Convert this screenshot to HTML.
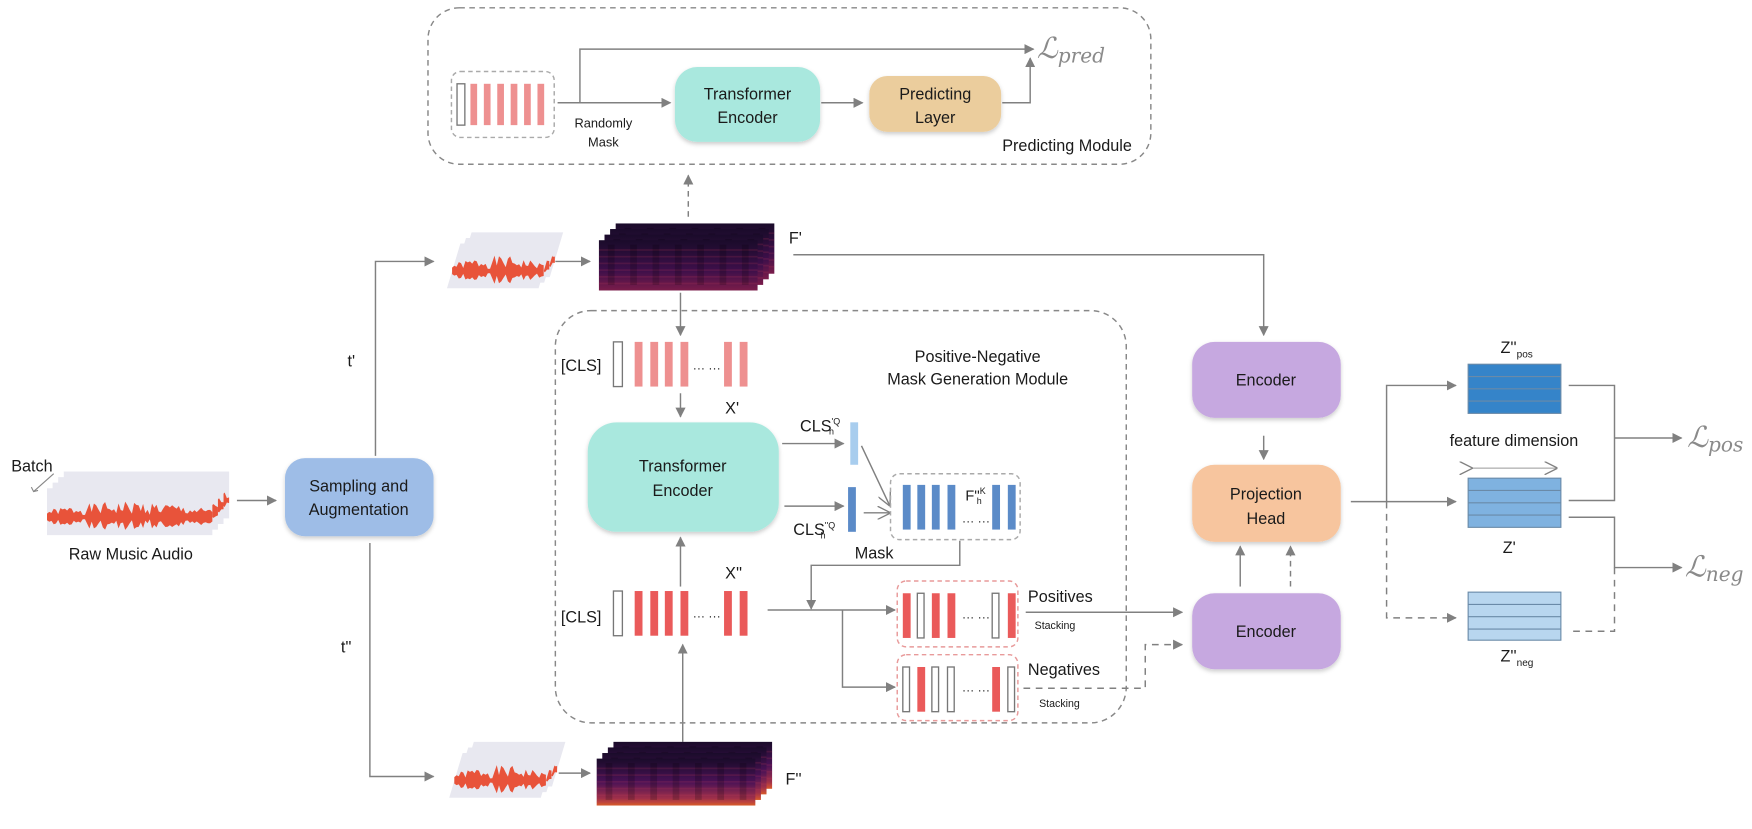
<!DOCTYPE html>
<html><head><meta charset="utf-8"><style>
html,body{margin:0;padding:0;background:#fff;overflow:hidden;width:1752px;height:829px;}
svg{display:block;}
text{font-family:"Liberation Sans","DejaVu Sans",sans-serif;fill:#1a1a1a;}
.L{font-family:"DejaVu Serif","Liberation Serif",serif;fill:#8a8a8a;font-style:italic;}
</style></head><body>
<svg id="s" width="1752" height="829" viewBox="0 0 1568 742" xmlns="http://www.w3.org/2000/svg">
<defs>
<marker id="a" viewBox="0 0 10 10" refX="9" refY="5" markerWidth="9" markerHeight="9" markerUnits="userSpaceOnUse" orient="auto"><path d="M0,0 L10,5 L0,10z" fill="#808080"/></marker>
<marker id="o" viewBox="0 0 10 10" refX="9" refY="5" markerWidth="12" markerHeight="12" markerUnits="userSpaceOnUse" orient="auto"><path d="M0,0 L10,5 L0,10" fill="none" stroke="#808080" stroke-width="1"/></marker>
<linearGradient id="sp" x1="0" y1="0" x2="0" y2="1"><stop offset="0" stop-color="#1a0b2a"/><stop offset="0.6" stop-color="#3d0f4a"/><stop offset="1" stop-color="#7a1c4a"/></linearGradient>
<linearGradient id="sp2" x1="0" y1="0" x2="0" y2="1"><stop offset="0" stop-color="#1a0b2a"/><stop offset="0.5" stop-color="#4a1256"/><stop offset="0.85" stop-color="#a0304a"/><stop offset="1" stop-color="#d85a2a"/></linearGradient>
<filter id="sh" x="-10%" y="-10%" width="130%" height="140%"><feDropShadow dx="0" dy="2" stdDeviation="2" flood-opacity="0.2"/></filter>
</defs>
<g stroke="#808080" stroke-width="1.3" fill="none">
<rect x="383" y="7" width="647" height="140" rx="28" stroke-dasharray="5,4" stroke="#888"/>
<rect x="404" y="64" width="92" height="59" rx="8" stroke-dasharray="4,3" stroke="#aaa"/>
<path d="M499 92 H600" marker-end="url(#a)"/>
<path d="M519 92 V44 H925" marker-end="url(#a)"/>
<path d="M735 92 H772" marker-end="url(#a)"/>
<path d="M897 92 H922 V52" marker-end="url(#a)"/>
<path d="M616 194 V157" stroke-dasharray="5,4" marker-end="url(#a)"/>
<path d="M212 448 H247" marker-end="url(#a)"/>
<path d="M336 408 V234 H388" marker-end="url(#a)"/>
<path d="M331 486 V695 H388" marker-end="url(#a)"/>
<path d="M497 234 H528" marker-end="url(#a)"/>
<path d="M500 692 H528" marker-end="url(#a)"/>
<path d="M710 228 H1131 V300" marker-end="url(#a)"/>
<path d="M609 262 V300" marker-end="url(#a)"/>
<path d="M611 664 V577" marker-end="url(#a)"/>
<rect x="497" y="278" width="511" height="369" rx="32" stroke-dasharray="5,4" stroke="#888"/>
<path d="M609 352 V373" marker-end="url(#a)"/>
<path d="M609 525 V481" marker-end="url(#a)"/>
<path d="M700 397 H755" marker-end="url(#a)"/>
<path d="M702 453 H755" marker-end="url(#a)"/>
<path d="M771 399 L796 452" marker-end="url(#o)"/>
<path d="M773 459 H796" marker-end="url(#o)"/>
<rect x="797" y="424" width="116" height="59" rx="8" stroke-dasharray="4,3" stroke="#aaa"/>
<path d="M859 484 V506 H726 V545" marker-end="url(#a)"/>
<path d="M687 546 H801" marker-end="url(#a)"/>
<path d="M754 546 V615 H801" marker-end="url(#a)"/>
<rect x="803" y="520" width="108" height="59" rx="8" stroke-dasharray="4,3" stroke="#e89a9a"/>
<rect x="803" y="586" width="108" height="59" rx="8" stroke-dasharray="4,3" stroke="#e89a9a"/>
<path d="M918 548 H1058" marker-end="url(#a)"/>
<path d="M916 616 H1025 V577 H1058" stroke-dasharray="6,5" marker-end="url(#a)"/>
<path d="M1131 390 V411" marker-end="url(#a)"/>
<path d="M1110 525 V489" marker-end="url(#a)"/>
<path d="M1155 525 V489" stroke-dasharray="5,4" marker-end="url(#a)"/>
<path d="M1209 449 H1303" marker-end="url(#a)"/>
<path d="M1241 449 V345 H1303" marker-end="url(#a)"/>
<path d="M1241 449 V553 H1303" stroke-dasharray="6,5" marker-end="url(#a)"/>
<path d="M1404 345 H1445 V448 H1404"/>
<path d="M1445 392 H1505" marker-end="url(#a)"/>
<path d="M1404 463 H1445 V508 H1505" marker-end="url(#a)"/>
<path d="M1445 508 V565 H1404" stroke-dasharray="6,5"/>
<path d="M1317 419 H1393" stroke="#999" stroke-width="1" marker-end="url(#o)" marker-start="url(#o)"/>
</g>
<g filter="url(#sh)">
<rect x="604" y="60" width="130" height="67" rx="20" fill="#a9e8de"/>
<rect x="778" y="68" width="118" height="50" rx="16" fill="#ebcd9d"/>
<rect x="255" y="410" width="133" height="70" rx="18" fill="#9ebde7"/>
<rect x="526" y="378" width="171" height="98" rx="26" fill="#a9e8de"/>
<rect x="1067" y="306" width="133" height="68" rx="20" fill="#c6a8e0"/>
<rect x="1067" y="416" width="133" height="69" rx="20" fill="#f7c59e"/>
<rect x="1067" y="531" width="133" height="68" rx="20" fill="#c6a8e0"/>
</g>
<g font-size="14.5" text-anchor="middle">
<text x="669" y="89">Transformer</text><text x="669" y="110">Encoder</text>
<text x="837" y="89">Predicting</text><text x="837" y="110">Layer</text>
<text x="321" y="440">Sampling and</text><text x="321" y="461">Augmentation</text>
<text x="611" y="422">Transformer</text><text x="611" y="444">Encoder</text>
<text x="1133" y="345">Encoder</text>
<text x="1133" y="447">Projection</text><text x="1133" y="469">Head</text>
<text x="1133" y="570">Encoder</text>
<text x="117" y="501">Raw Music Audio</text>
<text x="955" y="135">Predicting Module</text>
<text x="875" y="324">Positive-Negative</text><text x="875" y="344">Mask Generation Module</text>
<text x="1355" y="399">feature dimension</text>
</g>
<g font-size="11.5" text-anchor="middle"><text x="540" y="114">Randomly</text><text x="540" y="131">Mask</text></g>
<g font-size="14.5">
<text x="10" y="422">Batch</text>
<text x="311" y="328">t'</text><text x="305" y="584">t''</text>
<text x="706" y="218">F'</text><text x="703" y="702">F''</text>
<text x="502" y="332">[CLS]</text><text x="502" y="557">[CLS]</text>
<text x="649" y="370">X'</text><text x="649" y="518">X''</text>
<text x="716" y="386">CLS<tspan font-size="8" dy="-6">'Q</tspan><tspan font-size="8" dx="-10" dy="9">h</tspan></text>
<text x="710" y="479">CLS<tspan font-size="8" dy="-6">''Q</tspan><tspan font-size="8" dx="-13" dy="9">h</tspan></text>
<text x="864" y="448" font-size="13">F''<tspan font-size="8" dy="-6">K</tspan><tspan font-size="8" dx="-8" dy="9">h</tspan></text>
<text x="765" y="500">Mask</text>
<text x="920" y="539">Positives</text><text x="920" y="604">Negatives</text>
<text x="1343" y="316">Z''<tspan font-size="9" dy="4">pos</tspan></text>
<text x="1345" y="495">Z'</text>
<text x="1343" y="592">Z''<tspan font-size="9" dy="4">neg</tspan></text>
</g>
<g font-size="9.5"><text x="926" y="563">Stacking</text><text x="930" y="633">Stacking</text></g>
<text class="L" x="928" y="52" font-size="26">ℒ<tspan font-size="18" dy="4">pred</tspan></text>
<text class="L" x="1510" y="400" font-size="26">ℒ<tspan font-size="18" dy="4">pos</tspan></text>
<text class="L" x="1508" y="516" font-size="26">ℒ<tspan font-size="18" dy="4">neg</tspan></text>
<g stroke="#6a8aa8" stroke-width="1">
<rect x="1314" y="326" width="83" height="44" fill="#3584c9"/>
<path d="M1314 337H1397M1314 348H1397M1314 359H1397"/>
<rect x="1314" y="428" width="83" height="44" fill="#7fb2e0"/>
<path d="M1314 439H1397M1314 450H1397M1314 461H1397"/>
<rect x="1314" y="530" width="83" height="43" fill="#b8d6ef"/>
<path d="M1314 541H1397M1314 552H1397M1314 563H1397"/>
</g>
<g id="waves"></g>
<g id="bars"></g>
</svg>
<script>
var ns="http://www.w3.org/2000/svg",B=document.getElementById('bars'),W=document.getElementById('waves');
function r(x,y,w,h,f,s,p){var e=document.createElementNS(ns,'rect');e.setAttribute('x',x);e.setAttribute('y',y);e.setAttribute('width',w);e.setAttribute('height',h);e.setAttribute('fill',f);if(s){e.setAttribute('stroke',s);e.setAttribute('stroke-width',1.2);}(p||B).appendChild(e);return e;}
function t(x,y,s,p){var e=document.createElementNS(ns,'text');e.setAttribute('x',x);e.setAttribute('y',y);e.setAttribute('font-size',11);e.textContent=s;(p||B).appendChild(e);}
var pk='#ee9090',rd='#ea5a5a',bl='#5b8bc8';
r(409,75,7,37,'#fff','#777');[421,433,445,457,469,481].forEach(function(x){r(x,75,6,37,pk);});
r(549,306,8,40,'#fff','#777');[568,582,595,609].forEach(function(x){r(x,306,7,40,pk);});r(648,306,7,40,pk);r(662,306,7,40,pk);t(620,333,'··· ···');
r(549,529,8,40,'#fff','#777');[568,582,595,609].forEach(function(x){r(x,529,7,40,rd);});r(648,529,7,40,rd);r(662,529,7,40,rd);t(620,555,'··· ···');
r(761,378,7,38,'#a8cdee');r(759,436,7,40,bl);
[808,821,834,848,888,902].forEach(function(x){r(x,434,7,40,bl);});t(861,470,'··· ···');
var P=[rd,'w',rd,rd,'w',rd],N=['w',rd,'w','w',rd,'w'],X=[808,821,834,848,888,902];
X.forEach(function(x,i){P[i]=='w'?r(x,531,6,40,'#fff','#777'):r(x,531,7,40,rd);N[i]=='w'?r(x,597,6,40,'#fff','#777'):r(x,597,7,40,rd);});
t(861,556,'··· ···');t(861,621,'··· ···');
function spec(x0,y0,g,h){for(var k=3;k>=0;k--){var x=x0+k*5,y=y0-k*5;r(x,y,142,h,'url(#'+g+')',null,W);
for(var j=0;j<6;j++){r(x,y+8+j*6,142,1.5,'rgba(200,60,90,0.18)',null,W);}
for(var j=0;j<7;j++){r(x+8+j*20,y+4,6,h-9,'rgba(0,0,0,0.18)',null,W);}}}
spec(536,215,'sp',45);spec(534,679,'sp2',42);
function wave(x0,y0,w,h,n,sk){for(var k=n-1;k>=0;k--){var x=x0+k*5,y=y0-k*5;var pg=document.createElementNS(ns,'polygon');
pg.setAttribute('points',(x+sk)+','+y+' '+(x+w+sk)+','+y+' '+(x+w)+','+(y+h)+' '+x+','+(y+h));pg.setAttribute('fill','#e8e8f0');W.appendChild(pg);
var m=y+h*0.62,top='',bot='',seed=k*7+1;for(var i=0;i<=w;i+=2){seed=(seed*9301+49297)%233280;var a=(seed/233280)*h*0.3*(0.4+0.6*Math.sin(i/w*3.14))+2;var xx=x+i+sk*(1-(m-y)/h);top+=xx+','+(m-a)+' ';bot=xx+','+(m+a*0.8)+' '+bot;}
var p=document.createElementNS(ns,'polygon');p.setAttribute('points',top+bot);p.setAttribute('fill','#e8533a');W.appendChild(p);}}
wave(400,218,82,40,3,12);wave(402,674,82,40,3,12);wave(42,437,148,42,4,0);
var ln=document.createElementNS(ns,'path');ln.setAttribute('d','M30 440 L48 424 M28 436 L30 440 L34 439');ln.setAttribute('stroke','#888');ln.setAttribute('fill','none');W.appendChild(ln);
</script>
</body></html>
